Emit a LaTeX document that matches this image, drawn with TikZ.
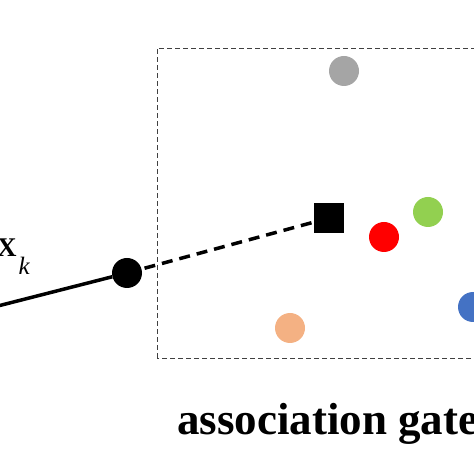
\documentclass[tikz,border=0pt]{standalone}
\usepackage{fontspec}
\setmainfont{Liberation Serif}
\definecolor{ptgray}{HTML}{A5A5A5}
\definecolor{ptgreen}{HTML}{92D050}
\definecolor{ptred}{HTML}{FF0000}
\definecolor{ptblue}{HTML}{4472C4}
\definecolor{ptpeach}{HTML}{F4B183}
\begin{document}
\begin{tikzpicture}[x=1pt,y=1pt]
		\tikzset{
			pt/.style={circle,fill,inner sep=0pt,minimum size=30pt},
			gate/.style={rectangle,fill,inner sep=0pt,minimum size=30pt},
		}
		\useasboundingbox (0,0) rectangle (474,474);
		\clip (0,0) rectangle (474,474);
		\draw[dash pattern=on 5pt off 3pt,line width=0.8pt,black!75] (157,116) rectangle (520,426);
		\coordinate (x0) at (-10,166);
		\node[pt] (xk) at (127,201) {};
		\node[gate] (g) at (329,256) {};
		\node[pt,ptgray] (p1) at (344,403) {};
		\node[pt,ptgreen] (p2) at (428,262) {};
		\node[pt,ptred] (p3) at (384,237) {};
		\node[pt,ptblue] (p4) at (473,167) {};
		\node[pt,ptpeach] (p5) at (290,146) {};
		\draw[line width=3.5pt] (x0) -- (xk);
		\draw[line width=3.5pt,dash pattern=on 11pt off 7pt,shorten <=3pt] (xk) -- (g);
		\node[anchor=base west,inner sep=0pt] (lbl) at (-3,217) {\fontsize{27}{27}\selectfont\textbf{X}\hspace{2pt}\raisebox{-18pt}{\fontsize{25}{25}\selectfont\textit{k}}};
		\node[anchor=base west,inner sep=0pt] (name) at (177,39) {\fontsize{45}{45}\selectfont\textbf{association gate}};
	\end{tikzpicture}
\end{document}
